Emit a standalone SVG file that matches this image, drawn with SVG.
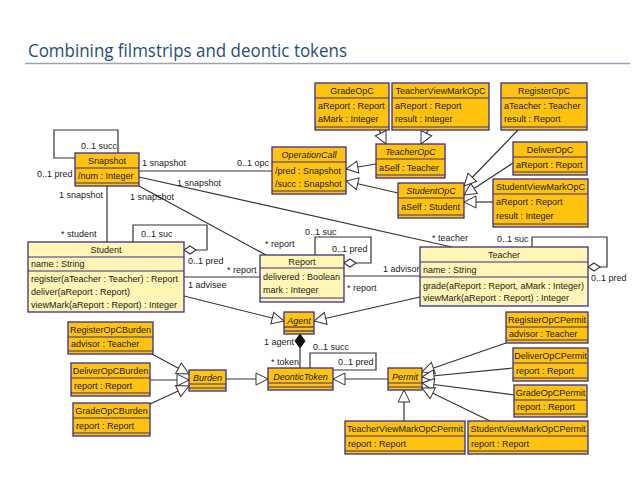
<svg xmlns="http://www.w3.org/2000/svg" width="638" height="478" viewBox="0 0 638 478">
<defs>
<style>
text{font-family:"Liberation Sans",Arial,sans-serif;font-size:9px;fill:#1a1a1a}
.h{text-anchor:middle}
.i{font-style:italic}
.o{fill:#FFC20E;stroke:#3A2E8C;stroke-width:1.3}
.y{fill:#FFF5B5;stroke:#3A2E8C;stroke-width:1.3}
.s{stroke:#3A2E8C;stroke-width:1.2}
.c{fill:none;stroke:#333;stroke-width:1.2}
.g{fill:none;stroke:#333;stroke-width:1.2;marker-end:url(#gen)}
.d{fill:#fff;stroke:#333;stroke-width:1.1}
</style>
<marker id="gen" markerUnits="userSpaceOnUse" markerWidth="14" markerHeight="14" viewBox="-1 -1 14 14" refX="12" refY="6" orient="auto">
<path d="M0,0 L12,6 L0,12 Z" fill="#fff" stroke="#333" stroke-width="1"/>
</marker>
</defs>
<rect width="638" height="478" fill="#fff"/>
<text x="28" y="57" style="font-family:'Open Sans','Liberation Sans',sans-serif;font-size:18px;fill:#1F4E79" textLength="319" lengthAdjust="spacingAndGlyphs">Combining filmstrips and deontic tokens</text>
<line x1="25" y1="63.5" x2="630" y2="63.5" stroke="#9AA3B5" stroke-width="1.5"/>

<g id="connectors">
<!-- Snapshot self loop -->
<path class="c" d="M118,153 V130 H54 V158 H75"/>
<text x="81" y="149">0..1 succ</text>
<text x="37" y="177">0..1 pred</text>
<!-- Snapshot - OperationCall -->
<line class="c" x1="139" y1="171" x2="272" y2="171"/>
<text x="142" y="166">1 snapshot</text>
<text x="237" y="166">0..1 opc</text>
<!-- Snapshot - Student -->
<line class="c" x1="107" y1="186" x2="107" y2="242"/>
<text x="59" y="198">1 snapshot</text>
<text x="61" y="237">* student</text>
<!-- Snapshot - Report -->
<line class="c" x1="139" y1="186" x2="266" y2="255"/>
<text x="130" y="200">1 snapshot</text>
<text x="265" y="247">* report</text>
<!-- Snapshot - Teacher -->
<line class="c" x1="139" y1="177" x2="452" y2="247"/>
<text x="177" y="186">1 snapshot</text>
<text x="432" y="241">* teacher</text>
<!-- Student self loop -->
<path class="c" d="M196,250 H207 V225 H133 V242"/>
<polygon class="d" points="184,250 190,246 196,250 190,254"/>
<text x="141" y="237">0..1 suc</text>
<text x="188" y="264">0..1 pred</text>
<!-- Report self loop -->
<path class="c" d="M356,263 H371 V237 H315 V255"/>
<polygon class="d" points="344,263 350,259 356,263 350,267"/>
<text x="305" y="235">0..1 suc</text>
<text x="332" y="252">0..1 pred</text>
<!-- Teacher self loop -->
<path class="c" d="M600,267 H607 V237 H532 V247"/>
<polygon class="d" points="588,267 594,263 600,267 594,271"/>
<text x="497" y="242">0..1 suc</text>
<text x="591" y="281">0..1 pred</text>
<!-- Student - Report -->
<line class="c" x1="184" y1="277" x2="260" y2="277"/>
<text x="227" y="273">* report</text>
<text x="188" y="288">1 advisee</text>
<!-- Report - Teacher -->
<line class="c" x1="344" y1="276" x2="420" y2="276"/>
<text x="383" y="272">1 advisor</text>
<text x="347" y="291">* report</text>
<!-- Agent generalizations -->
<line class="g" x1="184" y1="296" x2="284" y2="321"/>
<line class="g" x1="420" y1="297" x2="314" y2="321"/>
<!-- Agent - DeonticToken composition -->
<line class="c" x1="300" y1="348" x2="300" y2="368"/>
<polygon points="300,334 305,341 300,348 295,341" fill="#111" stroke="#111" stroke-width="1"/>
<text x="264" y="345">1 agent</text>
<text x="271" y="365">* token</text>
<!-- DeonticToken self loop -->
<path class="c" d="M310,368 V353 H376 V370 H333"/>
<text x="313" y="350">0..1 succ</text>
<text x="338" y="365">0..1 pred</text>
<!-- Permit / Burden to DeonticToken -->
<line class="g" x1="388" y1="379" x2="333" y2="379"/>
<line class="g" x1="226" y1="379" x2="268" y2="379"/>
<!-- Burden subclasses -->
<line class="g" x1="150" y1="353" x2="189" y2="374"/>
<line class="g" x1="150" y1="380" x2="189" y2="380"/>
<line class="g" x1="150" y1="404" x2="189" y2="386"/>
<!-- Permit subclasses -->
<line class="g" x1="404" y1="421" x2="404" y2="390"/>
<line class="g" x1="506" y1="343" x2="422" y2="372"/>
<line class="g" x1="513" y1="368" x2="422" y2="377"/>
<line class="g" x1="514" y1="395" x2="422" y2="383"/>
<line class="g" x1="490" y1="421" x2="422" y2="388"/>
<!-- TeacherOpC subclasses -->
<line class="g" x1="379" y1="130" x2="386" y2="144"/>
<line class="g" x1="428" y1="130" x2="421" y2="144"/>
<!-- OperationCall subclasses -->
<line class="g" x1="376" y1="164" x2="346" y2="169"/>
<line class="g" x1="398" y1="193" x2="346" y2="181"/>
<!-- StudentOpC subclasses -->
<line class="g" x1="518" y1="130" x2="464" y2="186"/>
<line class="g" x1="513" y1="163" x2="464" y2="195"/>
<line class="g" x1="493" y1="202" x2="464" y2="202"/>
</g>

<g id="GradeOpC"><rect class="o" x="315" y="83" width="74" height="47"/><line class="s" x1="315" y1="98" x2="389" y2="98"/><line class="s" x1="315" y1="127" x2="389" y2="127"/><text class="h" x="352" y="94">GradeOpC</text><text x="318" y="109">aReport : Report</text><text x="318" y="122">aMark : Integer</text></g>
<g id="TeacherViewMarkOpC"><rect class="o" x="392" y="83" width="97" height="47"/><line class="s" x1="392" y1="98" x2="489" y2="98"/><line class="s" x1="392" y1="127" x2="489" y2="127"/><text class="h" x="440.5" y="94">TeacherViewMarkOpC</text><text x="395" y="109">aReport : Report</text><text x="395" y="122">result : Integer</text></g>
<g id="RegisterOpC"><rect class="o" x="501" y="83" width="86" height="47"/><line class="s" x1="501" y1="98" x2="587" y2="98"/><line class="s" x1="501" y1="127" x2="587" y2="127"/><text class="h" x="544" y="94">RegisterOpC</text><text x="504" y="109">aTeacher : Teacher</text><text x="504" y="122">result : Report</text></g>
<g id="TeacherOpC"><rect class="o" x="376" y="144" width="69" height="34"/><line class="s" x1="376" y1="159" x2="445" y2="159"/><line class="s" x1="376" y1="175" x2="445" y2="175"/><text class="h i" x="410.5" y="155">TeacherOpC</text><text x="379" y="171">aSelf : Teacher</text></g>
<g id="DeliverOpC"><rect class="o" x="513" y="142" width="74" height="33"/><line class="s" x1="513" y1="157" x2="587" y2="157"/><line class="s" x1="513" y1="172" x2="587" y2="172"/><text class="h" x="550" y="153">DeliverOpC</text><text x="516" y="168">aReport : Report</text></g>
<g id="StudentOpC"><rect class="o" x="398" y="183" width="66" height="35"/><line class="s" x1="398" y1="198" x2="464" y2="198"/><line class="s" x1="398" y1="215" x2="464" y2="215"/><text class="h i" x="431" y="194">StudentOpC</text><text x="401" y="210">aSelf : Student</text></g>
<g id="StudentViewMarkOpC"><rect class="o" x="493" y="179" width="95" height="48"/><line class="s" x1="493" y1="194" x2="588" y2="194"/><line class="s" x1="493" y1="224" x2="588" y2="224"/><text class="h" x="540.5" y="190">StudentViewMarkOpC</text><text x="496" y="205">aReport : Report</text><text x="496" y="219">result : Integer</text></g>
<g id="OperationCall"><rect class="o" x="272" y="147" width="74" height="47"/><line class="s" x1="272" y1="162" x2="346" y2="162"/><line class="s" x1="272" y1="191" x2="346" y2="191"/><text class="h i" x="309" y="158">OperationCall</text><text x="275" y="174">/pred : Snapshot</text><text x="275" y="187">/succ : Snapshot</text></g>
<g id="Snapshot"><rect class="o" x="75" y="153" width="64" height="33"/><line class="s" x1="75" y1="168" x2="139" y2="168"/><line class="s" x1="75" y1="183" x2="139" y2="183"/><text class="h" x="107" y="164">Snapshot</text><text x="78" y="179">/num : Integer</text></g>
<g id="Student"><rect class="y" x="28" y="242" width="156" height="70"/><line class="s" x1="28" y1="257" x2="184" y2="257"/><line class="s" x1="28" y1="271" x2="184" y2="271"/><text class="h" x="106" y="253">Student</text><text x="31" y="267">name : String</text><text x="31" y="282">register(aTeacher : Teacher) : Report</text><text x="31" y="295">deliver(aReport : Report)</text><text x="31" y="308">viewMark(aReport : Report) : Integer</text></g>
<g id="Report"><rect class="y" x="260" y="255" width="84" height="47"/><line class="s" x1="260" y1="268" x2="344" y2="268"/><line class="s" x1="260" y1="298" x2="344" y2="298"/><text class="h" x="302" y="265">Report</text><text x="263" y="280">delivered : Boolean</text><text x="263" y="293">mark : Integer</text></g>
<g id="Teacher"><rect class="y" x="420" y="247" width="168" height="59"/><line class="s" x1="420" y1="262" x2="588" y2="262"/><line class="s" x1="420" y1="277" x2="588" y2="277"/><text class="h" x="504" y="258">Teacher</text><text x="423" y="273">name : String</text><text x="423" y="289">grade(aReport : Report, aMark : Integer)</text><text x="423" y="301">viewMark(aReport : Report) : Integer</text></g>
<g id="Agent"><rect class="o" x="284" y="312" width="30" height="22"/><line class="s" x1="284" y1="327" x2="314" y2="327"/><line class="s" x1="284" y1="331" x2="314" y2="331"/><text class="h i" x="299" y="324">Agent</text></g>
<g id="DeonticToken"><rect class="o" x="268" y="368" width="65" height="22"/><line class="s" x1="268" y1="383" x2="333" y2="383"/><line class="s" x1="268" y1="387" x2="333" y2="387"/><text class="h i" x="300.5" y="380">DeonticToken</text></g>
<g id="Burden"><rect class="o" x="189" y="370" width="37" height="21"/><line class="s" x1="189" y1="384" x2="226" y2="384"/><line class="s" x1="189" y1="388" x2="226" y2="388"/><text class="h i" x="207.5" y="381">Burden</text></g>
<g id="Permit"><rect class="o" x="388" y="368" width="34" height="22"/><line class="s" x1="388" y1="383" x2="422" y2="383"/><line class="s" x1="388" y1="387" x2="422" y2="387"/><text class="h i" x="405" y="380">Permit</text></g>
<g id="RegisterOpCBurden"><rect class="o" x="68" y="322" width="85" height="32"/><line class="s" x1="68" y1="337" x2="153" y2="337"/><line class="s" x1="68" y1="351" x2="153" y2="351"/><text class="h" x="110.5" y="333">RegisterOpCBurden</text><text x="71" y="347">advisor : Teacher</text></g>
<g id="DeliverOpCBurden"><rect class="o" x="71" y="363" width="79" height="33"/><line class="s" x1="71" y1="378" x2="150" y2="378"/><line class="s" x1="71" y1="393" x2="150" y2="393"/><text class="h" x="110.5" y="374">DeliverOpCBurden</text><text x="74" y="389">report : Report</text></g>
<g id="GradeOpCBurden"><rect class="o" x="73" y="403" width="77" height="33"/><line class="s" x1="73" y1="418" x2="150" y2="418"/><line class="s" x1="73" y1="433" x2="150" y2="433"/><text class="h" x="111.5" y="414">GradeOpCBurden</text><text x="76" y="429">report : Report</text></g>
<g id="RegisterOpCPermit"><rect class="o" x="506" y="312" width="82" height="31"/><line class="s" x1="506" y1="327" x2="588" y2="327"/><line class="s" x1="506" y1="340" x2="588" y2="340"/><text class="h" x="547" y="323">RegisterOpCPermit</text><text x="509" y="337">advisor : Teacher</text></g>
<g id="DeliverOpCPermit"><rect class="o" x="513" y="348" width="75" height="33"/><line class="s" x1="513" y1="363" x2="588" y2="363"/><line class="s" x1="513" y1="378" x2="588" y2="378"/><text class="h" x="550.5" y="359">DeliverOpCPermit</text><text x="516" y="374">report : Report</text></g>
<g id="GradeOpCPermit"><rect class="o" x="514" y="385" width="73" height="32"/><line class="s" x1="514" y1="400" x2="587" y2="400"/><line class="s" x1="514" y1="414" x2="587" y2="414"/><text class="h" x="550.5" y="396">GradeOpCPermit</text><text x="517" y="410">report : Report</text></g>
<g id="TeacherViewMarkOpCPermit"><rect class="o" x="345" y="421" width="120" height="33"/><line class="s" x1="345" y1="436" x2="465" y2="436"/><line class="s" x1="345" y1="451" x2="465" y2="451"/><text class="h" x="405" y="432">TeacherViewMarkOpCPermit</text><text x="348" y="447">report : Report</text></g>
<g id="StudentViewMarkOpCPermit"><rect class="o" x="468" y="421" width="120" height="33"/><line class="s" x1="468" y1="436" x2="588" y2="436"/><line class="s" x1="468" y1="451" x2="588" y2="451"/><text class="h" x="528" y="432">StudentViewMarkOpCPermit</text><text x="471" y="447">report : Report</text></g>
</svg>
